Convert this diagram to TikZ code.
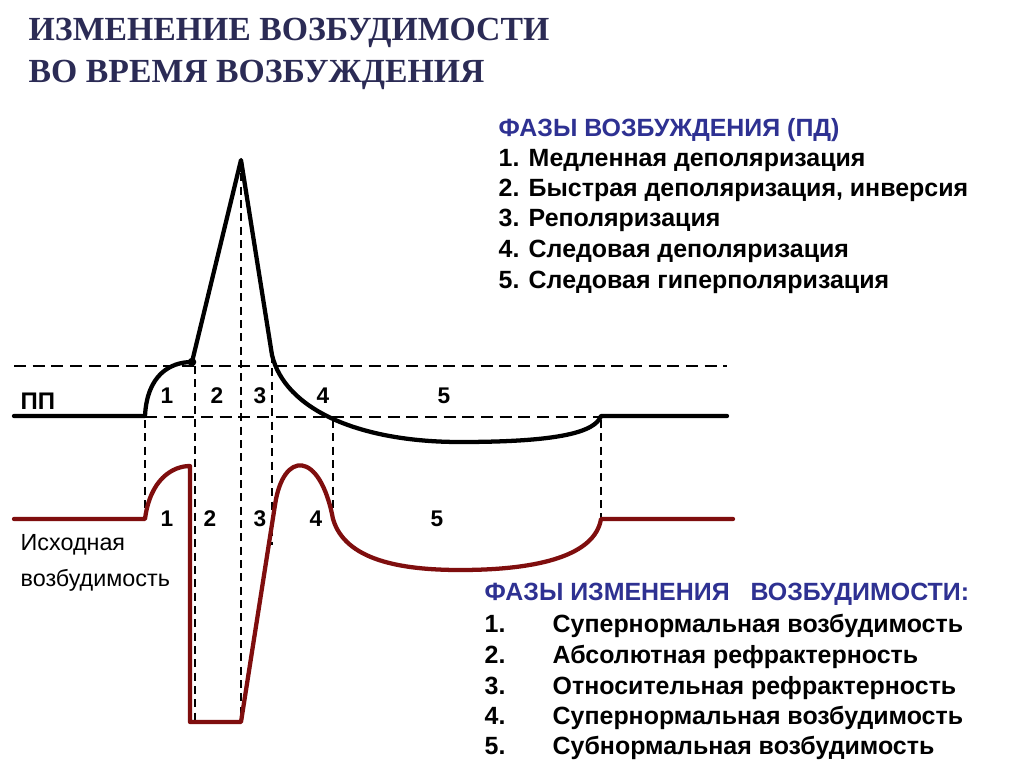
\documentclass[tikz,border=0pt]{standalone}
\usepackage{fontspec}
\setmainfont{Liberation Sans}
\newfontfamily\ttl{Liberation Serif}
\definecolor{navy}{HTML}{2E3192}
\definecolor{ttlc}{HTML}{2B2B55}
\definecolor{dred}{HTML}{7F0E0E}
\begin{document}
\begin{tikzpicture}[x=0.75pt,y=-0.75pt,
 curve/.style={line width=3.2pt,line cap=round,line join=round},
 guide/.style={dashed,line width=0.9pt,dash pattern=on 9pt off 5pt},
 vguide/.style={dashed,line width=0.8pt,dash pattern=on 6pt off 4pt},
 lbl/.style={font=\bfseries\fontsize{17}{20}\selectfont},
 item/.style={anchor=base west,font=\bfseries\fontsize{18.7}{22}\selectfont},
 head/.style={anchor=base west,text=navy,font=\bfseries\fontsize{18.7}{22}\selectfont}]
\useasboundingbox (0,0) rectangle (1024,767);
\fill[white] (0,0) rectangle (1024,767);
% title
\node[anchor=base west,text=ttlc,font=\ttl\bfseries\fontsize{25.3}{30}\selectfont] (t1) at (24,41) {ИЗМЕНЕНИЕ ВОЗБУДИМОСТИ};
\node[anchor=base west,text=ttlc,font=\ttl\bfseries\fontsize{25.3}{30}\selectfont] (t2) at (24,83) {ВО ВРЕМЯ ВОЗБУЖДЕНИЯ};
% upper list
\node[head] (h1) at (494,136) {ФАЗЫ ВОЗБУЖДЕНИЯ (ПД)};
\node[item] (a1) at (494,166) {1. Медленная деполяризация};
\node[item] (a2) at (494,196) {2. Быстрая деполяризация, инверсия};
\node[item] (a3) at (494,226) {3. Реполяризация};
\node[item] (a4) at (494,257) {4. Следовая деполяризация};
\node[item] (a5) at (494,288) {5. Следовая гиперполяризация};
% lower list
\node[head] (h2) at (480,600) {ФАЗЫ ИЗМЕНЕНИЯ\ \ \ ВОЗБУДИМОСТИ:};
\foreach \n/\y/\t in {1/632/Супернормальная возбудимость,2/663/Абсолютная рефрактерность,3/694/Относительная рефрактерность,4/724/Супернормальная возбудимость,5/754/Субнормальная возбудимость}{
 \node[item] (n\n) at (480,\y) {\n.};
 \node[item] (b\n) at (548,\y) {\t};
}
% guides
\draw[guide] (14,366) -- (727,366);
\draw[guide] (145,417) -- (600,417);
\draw[vguide] (145,420) -- (145,519);
\draw[vguide] (195,366) -- (195,722);
\draw[vguide] (241,160) -- (241,722);
\draw[vguide] (272,355) -- (272,545);
\draw[vguide] (333,420) -- (333,519);
\draw[vguide] (601,420) -- (601,519);
% black action potential
\draw[curve] (14,416) -- (145,416) .. controls (147,375) and (170,362) .. (192,362)
 -- (241,160) -- (272,355) .. controls (285,410) and (360,442) .. (460,442)
 .. controls (560,442) and (595,432) .. (601,416) -- (727,416);
\fill (192,362) circle (3.2pt);
% red excitability
\draw[curve,dred] (14,519) -- (145,519) .. controls (150,480) and (172,466) .. (190,466)
 -- (190,722) -- (241,722) -- (275,505) .. controls (283,450) and (320,450) .. (333,519)
 .. controls (345,560) and (400,570) .. (460,570) .. controls (540,570) and (595,555) .. (601,519) -- (733,519);
% numbers
\node[lbl] (p1) at (167,396) {1};
\node[lbl] (p2) at (217,396) {2};
\node[lbl] (p3) at (260,396) {3};
\node[lbl] (p4) at (323,396) {4};
\node[lbl] (p5) at (444,396) {5};
\node[lbl] (q1) at (167,519) {1};
\node[lbl] (q2) at (210,519) {2};
\node[lbl] (q3) at (260,519) {3};
\node[lbl] (q4) at (316,519) {4};
\node[lbl] (q5) at (437,519) {5};
\node[lbl,anchor=west,font=\bfseries\fontsize{18}{20}\selectfont] (pp) at (16,401) {ПП};
\node[anchor=west,font=\fontsize{17.5}{27}\selectfont,align=left] (ex) at (16,563) {Исходная\\возбудимость};
\end{tikzpicture}
\end{document}
